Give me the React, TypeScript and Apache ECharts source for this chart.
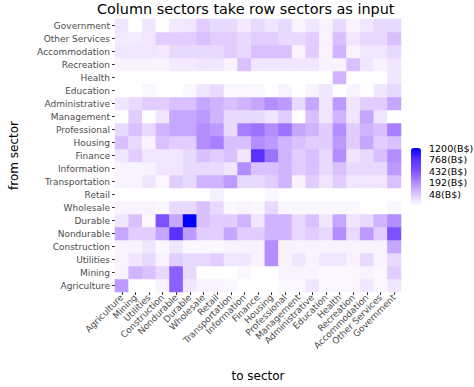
import React, { useEffect, useRef } from "react";
import * as echarts from "echarts";

const sectors = [
  "Agriculture", "Mining", "Utilities", "Construction", "Nondurable", "Durable",
  "Wholesale", "Retail", "Transportation", "Information", "Finance", "Housing",
  "Professional", "Management", "Administrative", "Education", "Health",
  "Recreation", "Accommodation", "Other Services", "Government",
];

// Each array: flows (B$) from the row sector to each column sector (same order as sectors)
const fromAgriculture = [147, 0, 0, 2, 363, 9, 2, 2, 1, 0, 0, 0, 1, 1, 9, 1, 1, 1, 9, 1, 9];
const fromMining = [2, 80, 55, 20, 363, 20, 0, 0, 0, 1, 0, 0, 2, 2, 2, 1, 1, 1, 2, 1, 35];
const fromUtilities = [2, 9, 20, 2, 35, 20, 20, 35, 9, 9, 2, 185, 2, 9, 2, 9, 9, 2, 20, 2, 20];
const fromConstruction = [2, 2, 9, 1, 9, 1, 1, 1, 2, 2, 2, 185, 2, 2, 2, 2, 2, 2, 2, 2, 110];
const fromNondurable = [110, 35, 35, 110, 768, 145, 35, 35, 110, 35, 35, 80, 80, 20, 35, 20, 185, 20, 145, 35, 432];
const fromDurable = [9, 55, 1, 432, 110, 1200, 55, 35, 35, 80, 9, 80, 80, 20, 55, 9, 110, 9, 20, 80, 185];
const fromWholesale = [2, 2, 2, 1, 20, 20, 55, 20, 1, 2, 1, 20, 1, 1, 1, 1, 1, 1, 0, 0, 1];
const fromRetail = [0, 0, 0, 0, 0, 0, 0, 3, 0, 0, 0, 1, 0, 0, 0, 0, 0, 0, 0, 0, 0];
const fromTransportation = [2, 2, 9, 1, 35, 20, 80, 80, 145, 20, 20, 35, 80, 2, 35, 9, 35, 9, 9, 9, 55];
const fromInformation = [2, 2, 2, 9, 9, 20, 20, 20, 9, 185, 55, 55, 80, 35, 55, 20, 55, 20, 20, 20, 145];
const fromFinance = [9, 35, 9, 9, 9, 20, 55, 35, 55, 9, 768, 280, 80, 35, 55, 20, 185, 9, 20, 55, 185];
const fromHousing = [55, 20, 2, 55, 35, 35, 185, 230, 55, 55, 185, 145, 80, 55, 35, 35, 145, 35, 110, 35, 55];
const fromProfessional = [20, 55, 20, 80, 110, 110, 185, 145, 20, 230, 280, 185, 280, 110, 80, 35, 185, 35, 80, 55, 230];
const fromManagement = [0, 35, 0, 9, 110, 110, 145, 80, 20, 20, 20, 9, 35, 0, 55, 9, 80, 9, 110, 9, 0];
const fromAdministrative = [9, 20, 35, 35, 55, 55, 110, 80, 55, 80, 110, 185, 145, 20, 110, 9, 145, 9, 35, 35, 110];
const fromEducation = [0, 0, 1, 0, 0, 1, 9, 20, 1, 1, 1, 0, 2, 0, 2, 9, 0, 2, 0, 9, 20];
const fromHealth = [0, 0, 0, 0, 0, 0, 0, 0, 0, 0, 0, 0, 0, 0, 0, 0, 80, 0, 0, 0, 9];
const fromRecreation = [2, 2, 2, 2, 6, 6, 9, 9, 2, 55, 9, 9, 9, 9, 9, 2, 2, 55, 9, 2, 9];
const fromAccommodation = [9, 9, 9, 6, 20, 20, 20, 20, 35, 20, 55, 55, 55, 2, 35, 2, 80, 2, 9, 9, 20];
const fromOtherServices = [6, 6, 9, 35, 35, 35, 55, 35, 35, 20, 35, 35, 20, 20, 35, 2, 55, 9, 20, 20, 55];
const fromGovernment = [9, 0, 9, 0, 6, 9, 35, 20, 20, 6, 20, 9, 20, 2, 9, 2, 20, 2, 9, 20, 20];

const legendTicks = [1200, 768, 432, 192, 48];

const rows = [
  fromAgriculture, fromMining, fromUtilities, fromConstruction, fromNondurable,
  fromDurable, fromWholesale, fromRetail, fromTransportation, fromInformation,
  fromFinance, fromHousing, fromProfessional, fromManagement, fromAdministrative,
  fromEducation, fromHealth, fromRecreation, fromAccommodation, fromOtherServices,
  fromGovernment,
];

const FONT = "DejaVu Sans";

export default function App() {
  const ref = useRef<HTMLDivElement>(null);
  useEffect(() => {
    if (!ref.current) return;
    const chart = echarts.init(ref.current, undefined, { renderer: "svg" });
    const data: number[][] = [];
    let maxV = 0;
    rows.forEach((row, yi) =>
      row.forEach((v, xi) => {
        data.push([xi, yi, Math.sqrt(v), v]);
        if (v > maxV) maxV = v;
      })
    );
    const sMax = Math.sqrt(maxV);
    const barTop = 148;
    const barH = 57.5;
    const barLeft = 411;
    const legendTexts = legendTicks.map((v) => ({
      type: "text",
      x: barLeft + 18,
      y: barTop + barH * (1 - Math.sqrt(v) / sMax),
      style: {
        text: `${v}(B$)`,
        font: `9.5px '${FONT}'`,
        fill: "#000",
        textVerticalAlign: "middle",
        textAlign: "left",
      },
    }));
    const legendTickMarks = legendTicks.flatMap((v) => {
      const y = barTop + barH * (1 - Math.sqrt(v) / sMax);
      return [
        { type: "line", shape: { x1: barLeft, y1: y, x2: barLeft + 2, y2: y }, style: { stroke: "#fff", lineWidth: 0.8 } },
        { type: "line", shape: { x1: barLeft + 8, y1: y, x2: barLeft + 10, y2: y }, style: { stroke: "#fff", lineWidth: 0.8 } },
      ];
    });
    chart.setOption({
      animation: false,
      backgroundColor: "#fff",
      textStyle: { fontFamily: FONT },
      title: {
        text: "Column sectors take row sectors as input",
        left: 97,
        top: 0,
        padding: [2, 0, 0, 0],
        textStyle: { fontFamily: FONT, fontSize: 14.4, fontWeight: "normal", color: "#000" },
      },
      grid: { left: 98.5, right: 73, top: 19, bottom: 80, containLabel: false },
      xAxis: {
        type: "category",
        data: sectors,
        name: "to sector",
        nameLocation: "middle",
        nameGap: 78,
        nameTextStyle: { fontFamily: FONT, fontSize: 12, color: "#000" },
        axisLine: { show: false },
        axisTick: { show: true, alignWithLabel: true, length: 3, lineStyle: { color: "#333" } },
        axisLabel: { rotate: 45, interval: 0, fontSize: 9, color: "#4D4D4D", fontFamily: FONT, margin: 4 },
        splitLine: { show: false },
      },
      yAxis: {
        type: "category",
        data: sectors,
        name: "from sector",
        nameLocation: "middle",
        nameGap: 95,
        nameRotate: 90,
        nameTextStyle: { fontFamily: FONT, fontSize: 12, color: "#000" },
        axisLine: { show: false },
        axisTick: { show: true, alignWithLabel: true, length: 3, lineStyle: { color: "#333" } },
        axisLabel: { interval: 0, fontSize: 9, color: "#4D4D4D", fontFamily: FONT, margin: 5 },
        splitLine: { show: false },
      },
      visualMap: {
        type: "continuous",
        min: 0,
        max: sMax,
        dimension: 2,
        calculable: false,
        showLabel: false,
        text: null,
        orient: "vertical",
        left: barLeft,
        top: barTop,
        itemWidth: 10,
        itemHeight: barH,
        padding: 0,
        hoverLink: false,
        inRange: {
          color: ["#FFFFFF", "#DCC5FF", "#B28BFF", "#7E51FF", "#5932FF", "#0000FF"],
        },
      },
      graphic: [...legendTickMarks, ...legendTexts],
      series: [
        {
          type: "heatmap",
          data,
          progressive: 0,
          itemStyle: { borderWidth: 0 },
          emphasis: { disabled: true },
        },
      ],
    });
    return () => chart.dispose();
  }, []);
  return (
    <div
      ref={ref}
      style={{ position: "fixed", left: 0, top: 0, width: 474, height: 387 }}
    />
  );
}
